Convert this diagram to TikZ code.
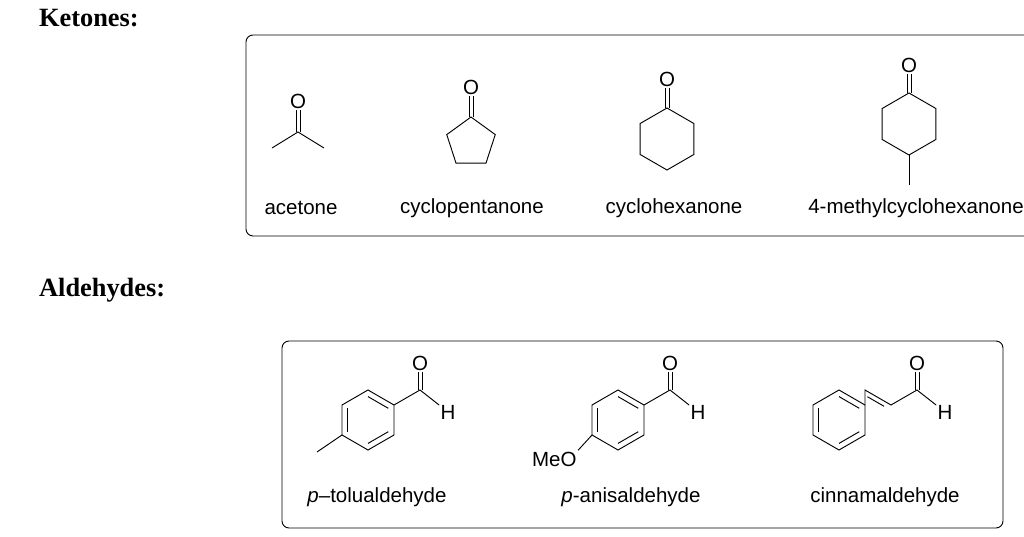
\documentclass[tikz,border=0pt]{standalone}
\usepackage{fontspec}
\setmainfont{Liberation Serif}
\setsansfont{Liberation Sans}
\usetikzlibrary{calc}
\tikzset{
  bond/.style={line width=0.8pt},
  atom/.style={font=\sffamily\fontsize{17.5}{20}\selectfont, inner sep=1pt},
  cmpd/.style={font=\sffamily\fontsize{17.5}{20}\selectfont},
  head/.style={font=\bfseries\fontsize{22.5}{26}\selectfont, anchor=west},
  panel/.style={line width=0.8pt, rounded corners=6pt}
}
% ring of #4 atoms named #1<i>, centre (#2,#3), radius #5, atom 1 on top
\newcommand\polyring[5]{%
  \foreach \i in {1,...,#4}
    \coordinate (#1\i) at ({#2+#5*sin(360*(\i-1)/#4)},{#3-#5*cos(360*(\i-1)/#4)});
  \coordinate (#1c) at (#2,#3);
  \draw[bond] (#11) \foreach \i in {2,...,#4} { -- (#1\i) } -- cycle;}
% inner line of a benzene ring
\newcommand\inner[3]{\draw[bond] ($(#1#2)!0.22!(#1c)$) -- ($(#1#3)!0.22!(#1c)$);}
% vertical C=O bond from carbon #1 up to oxygen node #2
\newcommand\carbonyl[2]{%
  \draw[bond] ([xshift=-1.7pt]#1) -- ([xshift=-1.7pt]#2.south);
  \draw[bond] ([xshift=1.7pt]#1) -- ([xshift=1.7pt]#2.south);}
\begin{document}
\begin{tikzpicture}[x=0.03cm, y=-0.03cm]
  \useasboundingbox (0,0) rectangle (1024,537);

  \node[head] (ket) at (35,18) {Ketones:};
  \node[head] (ald) at (35,290) {Aldehydes:};
  \draw[panel] (246,35) rectangle (1040,236);
  \draw[panel] (282,341) rectangle (1003,528);

  % acetone
  \coordinate (ac) at (298,132);
  \coordinate (am1) at (272,148);
  \coordinate (am2) at (324,148);
  \node[atom] (ao) at (298,101) {O};
  \draw[bond] (am1) -- (ac) -- (am2);
  \carbonyl{ac}{ao}
  \node[cmpd] (acetone) at (301,208) {acetone};

  % cyclopentanone
  \polyring{p}{471}{142.5}{5}{25.5}
  \node[atom] (po) at (471,87) {O};
  \carbonyl{p1}{po}
  \node[cmpd] (cpent) at (472,208) {cyclopentanone};

  % cyclohexanone
  \polyring{h}{667}{139}{6}{31}
  \node[atom] (ho) at (667,79) {O};
  \carbonyl{h1}{ho}
  \node[cmpd] (chex) at (674,208) {cyclohexanone};

  % 4-methylcyclohexanone
  \polyring{m}{909}{124}{6}{31}
  \node[atom] (mo) at (909,65) {O};
  \coordinate (mme) at (909,185);
  \carbonyl{m1}{mo}
  \draw[bond] (m4) -- (mme);
  \node[cmpd] (mchex) at (916,208) {4-methylcyclohexanone};

  % p-tolualdehyde
  \polyring{t}{368}{420}{6}{30}
  \inner{t}{1}{2} \inner{t}{3}{4} \inner{t}{5}{6}
  \coordinate (tme) at (317,452);
  \coordinate (tc) at (420,390);
  \node[atom] (to) at (420,363) {O};
  \node[atom] (th) at (448,412) {H};
  \draw[bond] (t5) -- (tme);
  \draw[bond] (t2) -- (tc) -- (th);
  \carbonyl{tc}{to}
  \node[cmpd] (tol) at (377,497) {\textit{p}–tolualdehyde};

  % p-anisaldehyde
  \polyring{a}{618}{420}{6}{30}
  \inner{a}{1}{2} \inner{a}{3}{4} \inner{a}{5}{6}
  \node[atom, anchor=east] (amo) at (578,459) {MeO};
  \coordinate (ac2) at (670,390);
  \node[atom] (ao2) at (670,363) {O};
  \node[atom] (ah) at (698,412) {H};
  \draw[bond] (a5) -- (amo.north east);
  \draw[bond] (a2) -- (ac2) -- (ah);
  \carbonyl{ac2}{ao2}
  \node[cmpd] (anis) at (631,497) {\textit{p}-anisaldehyde};

  % cinnamaldehyde
  \polyring{c}{839}{420}{6}{30}
  \inner{c}{1}{2} \inner{c}{3}{4} \inner{c}{5}{6}
  \coordinate (ca) at (865,390);
  \coordinate (cb) at (891,405);
  \coordinate (cc) at (917,390);
  \coordinate (cx1) at ($(ca)!0.18!(cb)+(-2.3,4)$);
  \coordinate (cx2) at ($(cb)!0.18!(ca)+(-2.3,4)$);
  \node[atom] (co) at (917,363) {O};
  \node[atom] (ch) at (945,412) {H};
  \draw[bond] (c2) -- (ca) -- (cb) -- (cc) -- (ch);
  \draw[bond] (cx1) -- (cx2);
  \carbonyl{cc}{co}
  \node[cmpd] (cinn) at (885,497) {cinnamaldehyde};
\end{tikzpicture}
\end{document}
